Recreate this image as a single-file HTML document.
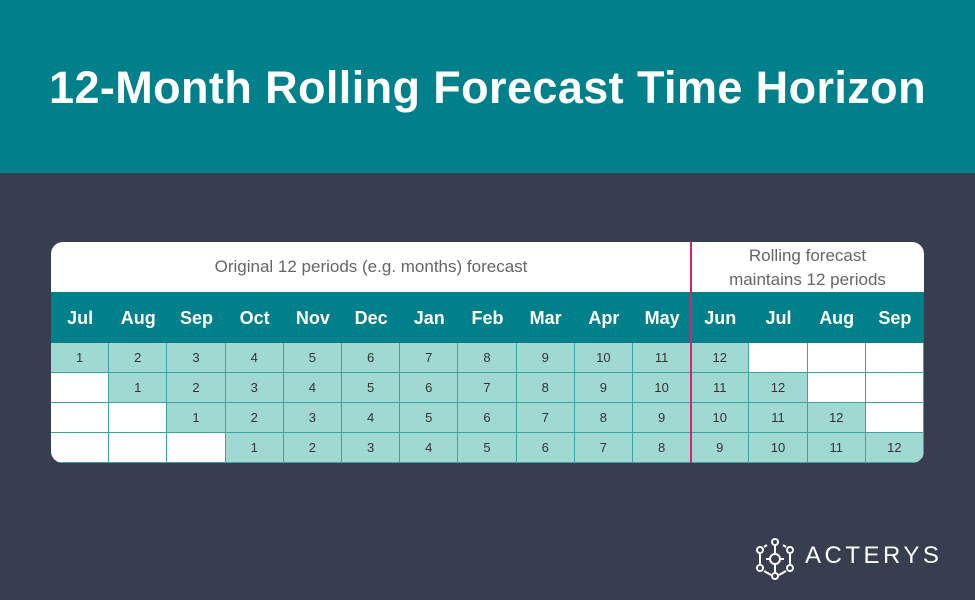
<!DOCTYPE html>
<html><head><meta charset="utf-8"><style>
*{margin:0;padding:0;box-sizing:border-box}
body{width:975px;height:600px;background:#363e4f;position:relative;overflow:hidden;font-family:"Liberation Sans",sans-serif}
#hdr{position:absolute;left:0;top:0;width:975px;height:173px;background:#00808a;color:#fff;font-weight:bold;font-size:45px;text-align:center;line-height:176px;letter-spacing:0.4px}
#tbl{position:absolute;left:51px;top:242px;width:873px;height:221px;background:#fff;border-radius:12px;overflow:hidden}
.c{position:absolute;width:58.2px;height:30px;font-size:13px;color:#333;text-align:center;line-height:30px;border-right:1px solid #3aa3a3;border-bottom:1px solid #3aa3a3}
.g{background:#9fd9d2}
.w{background:#fff}
.m{position:absolute;top:50px;height:51px;width:58.2px;color:#fff;font-weight:bold;font-size:18px;text-align:center;line-height:52px}
.t{position:absolute;color:#666;font-size:17px;text-align:center}
</style></head><body>
<div id="hdr">12-Month Rolling Forecast Time Horizon</div>
<div id="tbl">
<div style="position:absolute;left:0;top:50px;width:873px;height:51px;background:#00808a"></div>
<div class="t" style="left:0;width:640px;top:15px">Original 12 periods (e.g. months) forecast</div>
<div class="t" style="left:640px;width:233px;top:2px;line-height:24px">Rolling forecast<br>maintains 12 periods</div>
<div id="cells"></div>
<div style="position:absolute;left:639px;top:0;width:2px;height:221px;background:#d6246e"></div>
</div>
<div style="position:absolute;left:752px;top:537px">
<svg width="46" height="44" viewBox="0 0 46 44" fill="none" stroke="#fff" stroke-width="2">
<circle cx="23" cy="5" r="3"/><circle cx="8" cy="13" r="3"/><circle cx="38" cy="13" r="3"/><circle cx="8" cy="31" r="3"/><circle cx="38" cy="31" r="3"/><circle cx="23" cy="39" r="3"/><circle cx="23" cy="22" r="5"/>
<path d="M15 8l-3 2M31 8l3 2M8 17v10M38 17v10M12 34l7 4M34 34l-7 4M23 9v8M23 27v8M14 22h4M28 22h4"/>
</svg></div>
<div style="position:absolute;left:805px;top:542px;color:#fff;font-size:24px;letter-spacing:3.5px">ACTERYS</div>
<script>
var months=["Jul","Aug","Sep","Oct","Nov","Dec","Jan","Feb","Mar","Apr","May","Jun","Jul","Aug","Sep"];
var h="";
for(var i=0;i<15;i++){
 h+='<div class="m" style="left:'+(i*58.2)+'px">'+months[i]+'</div>';
 for(var r=0;r<4;r++){
  var n=i-r+1, g=(n>=1&&n<=12);
  h+='<div class="c '+(g?'g':'w')+'" style="left:'+(i*58.2)+'px;top:'+(101+r*30)+'px">'+(g?n:'')+'</div>';
 }
}
document.getElementById("cells").innerHTML=h;
</script>
</body></html>
